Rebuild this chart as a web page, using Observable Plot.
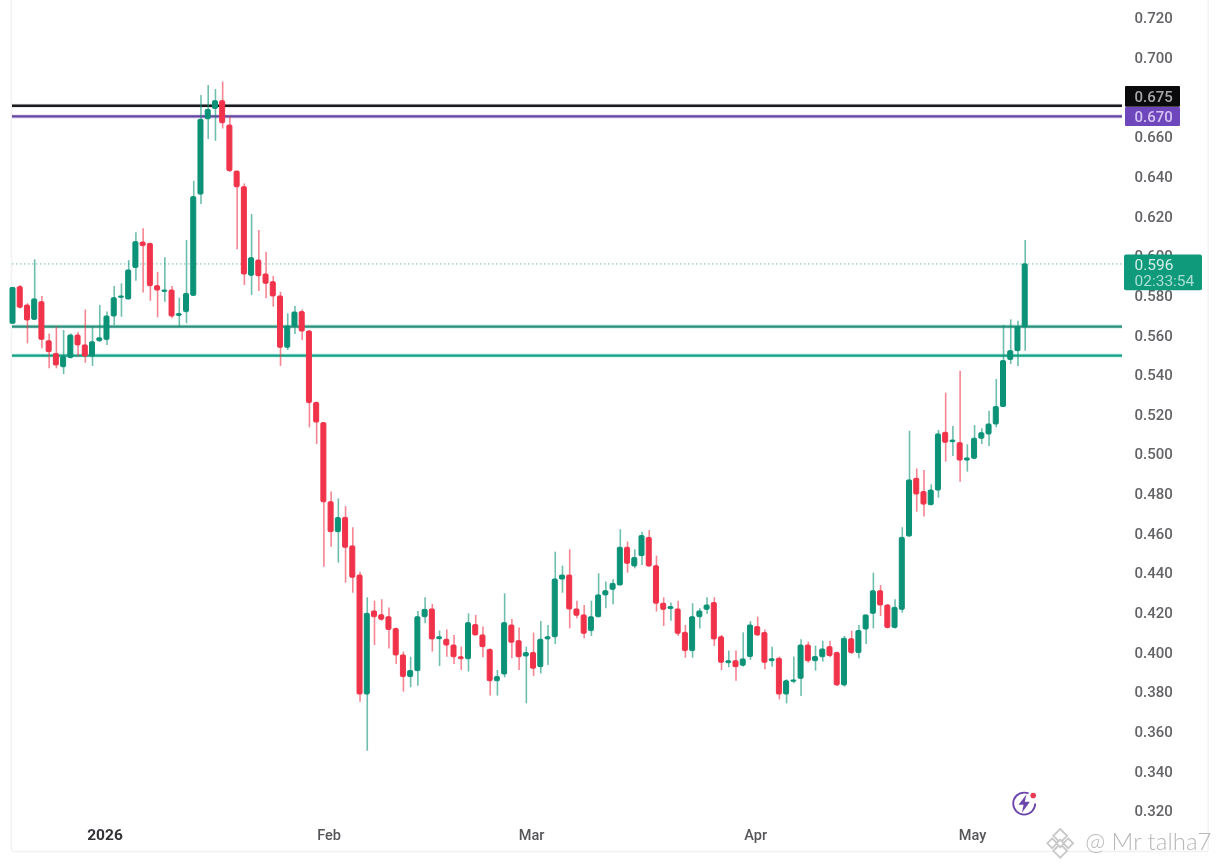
<!DOCTYPE html>
<html>
<head>
<meta charset="utf-8">
<script src="https://cdn.jsdelivr.net/npm/d3@7"></script>
<script src="https://cdn.jsdelivr.net/npm/@observablehq/plot@0.6"></script>
<style>
html,body{margin:0;padding:0;background:#fff;overflow:hidden}
svg{display:block;filter:blur(0.55px)}
</style>
</head>
<body>
<div id="chart"></div>
<script>
const opens = [
.5660,.5845,.5752,.5680,.5769,.5572,.5508,.5441,.5488,.5601,
.5551,.5495,.5572,.5579,.5697,.5791,.5783,.5942,.6070,.6063,
.5850,.5821,.5828,.5700,.5719,.5801,.6312,.6692,.6744,.6783,
.6660,.6428,.6349,.5902,.5979,.5909,.5870,.5798,.5539,.5646,
.5719,.5621,.5261,.5159,.4760,.4609,.4681,.4537,.4390,.3790,
.4209,.4190,.4180,.4120,.3987,.3878,.3908,.4180,.4219,.4069,
.4066,.4037,.3978,.3968,.4140,.4088,.4015,.3857,.3891,.4138,
.4059,.3982,.3999,.3928,.4068,.4079,.4370,.4390,.4219,.4189,
.4110,.4180,.4290,.4318,.4340,.4530,.4436,.4488,.4580,.4437,
.4248,.4221,.4219,.4101,.4009,.4180,.4217,.4251,.4079,.3948,
.3958,.3935,.3979,.4130,.4100,.3958,.3970,.3790,.3854,.3869,
.4037,.3958,.3978,.4029,.3999,.3836,.4069,.3999,.4118,.4197,
.4311,.4239,.4126,.4217,.4587,.4878,.4811,.4745,.4819,.5110,
.5063,.5058,.4970,.4979,.5080,.5102,.5152,.5240,.5478,.5522,
.5643];
const closes = [
.5841,.5741,.5677,.5783,.5579,.5517,.5450,.5492,.5601,.5551,
.5495,.5567,.5587,.5697,.5789,.5798,.5929,.6072,.6052,.5850,
.5828,.5828,.5697,.5709,.5811,.6299,.6689,.6739,.6783,.6672,
.6430,.6349,.5909,.5991,.5900,.5862,.5798,.5539,.5646,.5717,
.5621,.5260,.5162,.4760,.4609,.4680,.4530,.4379,.3790,.4197,
.4180,.4167,.4116,.3987,.3878,.3908,.4180,.4217,.4068,.4079,
.4037,.3978,.3968,.4150,.4088,.4029,.3857,.3878,.4150,.4051,
.3978,.3999,.3920,.4066,.4079,.4370,.4390,.4219,.4187,.4096,
.4180,.4290,.4311,.4348,.4530,.4449,.4478,.4589,.4436,.4248,
.4217,.4231,.4096,.4009,.4180,.4209,.4239,.4068,.3950,.3958,
.3928,.3967,.4138,.4088,.3950,.3968,.3790,.3857,.3861,.4037,
.3958,.3979,.4017,.3984,.3836,.4071,.3999,.4110,.4189,.4311,
.4239,.4126,.4227,.4580,.4870,.4799,.4748,.4819,.5102,.5060,
.5071,.4970,.4981,.5080,.5108,.5152,.5240,.5472,.5522,.5643,
.5960];
const highs = [
.5841,.5853,.5761,.5983,.5798,.5609,.5643,.5626,.5609,.5618,
.5730,.5643,.5752,.5719,.5848,.5862,.5979,.6119,.6139,.6067,
.5920,.5993,.5848,.5789,.6080,.6379,.6812,.6862,.6842,.6879,
.6702,.6428,.6366,.6211,.6131,.6021,.5899,.5819,.5710,.5747,
.5730,.5626,.5265,.5159,.4811,.4777,.4738,.4631,.4407,.4278,
.4261,.4268,.4227,.4126,.4004,.3978,.4209,.4278,.4244,.4110,
.4116,.4088,.4029,.4197,.4189,.4130,.4020,.3911,.4298,.4168,
.4126,.4029,.4100,.4158,.4138,.4508,.4437,.4520,.4261,.4239,
.4261,.4399,.4357,.4369,.4621,.4559,.4520,.4609,.4617,.4488,
.4278,.4251,.4261,.4138,.4248,.4222,.4278,.4278,.4088,.4009,
.4009,.4101,.4158,.4180,.4116,.4029,.3979,.3864,.3979,.4066,
.4054,.4034,.4059,.4059,.4004,.4083,.4110,.4138,.4189,.4402,
.4340,.4244,.4268,.4631,.5118,.4928,.4920,.4848,.5122,.5310,
.5142,.5421,.5050,.5147,.5130,.5219,.5379,.5651,.5680,.5673,
.6080];
const lows = [
.5660,.5735,.5559,.5677,.5534,.5433,.5433,.5404,.5483,.5492,
.5461,.5445,.5567,.5551,.5651,.5693,.5781,.5875,.5815,.5774,
.5690,.5769,.5685,.5643,.5660,.5798,.6262,.6590,.6581,.6643,
.6425,.6033,.5853,.5803,.5823,.5786,.5744,.5445,.5525,.5606,
.5576,.5135,.5051,.4432,.4533,.4453,.4352,.4301,.3751,.3504,
.4037,.4160,.4020,.3941,.3802,.3824,.3832,.4147,.4004,.3931,
.3978,.3941,.3911,.3903,.4088,.3975,.3782,.3782,.3874,.3970,
.3911,.3743,.3881,.3894,.3936,.4042,.4301,.4121,.4172,.4071,
.4083,.4177,.4222,.4243,.4340,.4402,.4424,.4441,.4432,.4206,
.4133,.4160,.4083,.3973,.3973,.4121,.4194,.4032,.3911,.3925,
.3857,.3928,.3962,.4083,.3915,.3928,.3763,.3743,.3844,.3780,
.3948,.3908,.3953,.3975,.3830,.3827,.3992,.3970,.4042,.4121,
.4183,.4121,.4121,.4200,.4584,.4710,.4685,.4743,.4780,.4962,
.4991,.4861,.4912,.4974,.5051,.5041,.5135,.5240,.5455,.5445,
.5522];

const firstDay = new Date(Date.UTC(2025, 11, 19));
const dates = opens.map((_, i) => d3.utcDay.offset(firstDay, i));
const candles = dates.map((date, i) => ({date, open: opens[i], close: closes[i], high: highs[i], low: lows[i]}));
const lastDate = dates[dates.length - 1];

const priceTicks = d3.range(16, 37).map(n => n / 50);
const monthLabels = ["Feb", "Mar", "Apr", "May"];
const monthDates = [Date.UTC(2026,1,1), Date.UTC(2026,2,1), Date.UTC(2026,3,1), Date.UTC(2026,4,1)].map(t => new Date(t));
const monthRows = monthLabels.map((label, i) => ({label, date: monthDates[i]}));
const yearRows = [{label: "2026", date: new Date(Date.UTC(2026,0,1))}];

const levels = [
  {value: 0.6760, color: "#1b1b1f", width: 2.6, halo: "#cfcfcf"},
  {value: 0.6706, color: "#64469f", width: 2.2, halo: "#cbbce8"},
  {value: 0.5646, color: "#2a8f7c", width: 2.4, halo: "#a9dfd1"},
  {value: 0.5500, color: "#14a085", width: 2.2, halo: "#a9e8d8"}
];
const priceTags = [
  {top: 0.6857, bottom: 0.6753, fill: "#0a0a0d"},
  {top: 0.6751, bottom: 0.6655, fill: "#6f47bd"}
];
const tagTexts = [
  {value: 0.6802, text: "0.675", color: "#a8a8a8"},
  {value: 0.6701, text: "0.670", color: "#d5c5f2"}
];
const lastTag = [{top: 0.6007, bottom: 0.5827}];
const lastTexts = [
  {value: 0.5959, text: "0.596", color: "#d3efe7"},
  {value: 0.5878, text: "02:33:54", color: "#a9dfd1"}
];

const UP = "#0b9277", DOWN = "#f0334a";
const color = d => d.close >= d.open ? UP : DOWN;
const FONT = "Roboto, 'Liberation Sans', sans-serif";

const yMin = 0.2998, yMax = 0.7291;
const bolt = {draw(c, s) {
  const k = Math.sqrt(s) / 14;
  c.moveTo(2*k,-8*k); c.lineTo(-5*k,1*k); c.lineTo(-0.5*k,1*k);
  c.lineTo(-2*k,8*k); c.lineTo(5*k,-1.5*k); c.lineTo(0.5*k,-1.5*k); c.closePath();
}};
const iconRow = [{date: lastDate, value: 0.3240}];
const markRow = [{date: lastDate, value: 0.3039}];
const diamonds = [[0,-7.5,6.2],[-8,0,4.4],[8,0,4.4],[0,7.5,6.2],[0,0,3.4]];

const chart = Plot.plot({
  width: 1220, height: 866,
  marginLeft: 12, marginRight: 98, marginTop: 0, marginBottom: 15,
  style: {background: "#fff", fontFamily: FONT, overflow: "visible"},
  x: {type: "utc", domain: [d3.utcMinute.offset(firstDay, -100), d3.utcHour.offset(lastDate, 323)], axis: null},
  y: {domain: [yMin, yMax], axis: null},
  marks: [
    Plot.ruleX([firstDay], {stroke: "#f1f1f1", strokeWidth: 1.5, dx: -1.5}),
    Plot.ruleX([lastDate], {stroke: "#f3f3f3", strokeWidth: 1.5, dx: 183}),
    Plot.ruleY([yMin], {stroke: "#f1f1f1", strokeWidth: 1.5, insetRight: -86}),
    Plot.axisY(priceTicks, {anchor: "right", tickSize: 0, tickPadding: 12, tickFormat: ".3f", label: null,
      fontSize: 15, fontWeight: 500, fill: "#636367"}),
    Plot.ruleY([closes[closes.length - 1] + 0.0002], {stroke: "#0b9277", strokeOpacity: 0.6, strokeDasharray: "1.5,2.5", strokeWidth: 1}),
    Plot.ruleY(levels, {y: "value", stroke: "halo", strokeWidth: 4, strokeOpacity: 0.6}),
    Plot.ruleY(levels, {y: "value", stroke: "color", strokeWidth: "width"}),
    Plot.ruleX(candles, {x: "date", y1: "low", y2: "high", stroke: color, strokeWidth: 1.6, strokeOpacity: 0.6}),
    Plot.rect(candles, {x1: "date", x2: "date", y1: "open", y2: "close", insetLeft: -2.5, insetRight: -2.5,
      fill: color, stroke: color, strokeWidth: 1, rx: 1}),
    Plot.rect(priceTags, {y1: "top", y2: "bottom", fill: "fill", insetLeft: 1113, insetRight: -58, rx: 1}),
    Plot.text(tagTexts, {y: "value", text: "text", fill: "color", frameAnchor: "right", dx: 12, textAnchor: "start", fontSize: 15, fontWeight: 500}),
    Plot.rect(lastTag, {y1: "top", y2: "bottom", fill: "#0f9a7c", insetLeft: 1112, insetRight: -80, rx: 2}),
    Plot.text(lastTexts, {y: "value", text: "text", fill: "color", frameAnchor: "right", dx: 12, textAnchor: "start", fontSize: 15.5, fontWeight: 400}),
    Plot.text(monthRows, {x: "date", y: () => 0.3079, text: "label", dx: -2, fill: "#55555a", fontSize: 14.5, fontWeight: 500}),
    Plot.text(yearRows, {x: "date", y: () => 0.3079, text: "label", dx: -2, fill: "#333338", fontSize: 15.5, fontWeight: 700}),
    Plot.dot(iconRow, {x: "date", y: "value", r: 11, stroke: "#6a46ad", strokeWidth: 1.8, strokeDasharray: "56,13", fill: "#fff", dx: -1}),
    Plot.dot(iconRow, {x: "date", y: "value", symbol: bolt, r: 9, fill: "#6a46ad", stroke: "none", dx: -1}),
    Plot.dot(iconRow, {x: "date", y: "value", r: 2.8, fill: "#ea3b55", stroke: "none", dx: 8, dy: -8}),
    ...diamonds.map(([dx, dy, r]) => Plot.dot(markRow, {x: "date", y: "value", symbol: "diamond2", r, stroke: "#c8c8c8", strokeWidth: 1.8, fill: "#fff", dx: 35 + dx, dy})),
    Plot.text(["@ Mr talha7"], {frameAnchor: "bottom-right", text: d => d, dx: 89, dy: -2, textAnchor: "end", fill: "#b8b8b8", fontFamily: "Lato, 'Open Sans', sans-serif", fontSize: 24, fontWeight: 300, letterSpacing: 1})
  ]
});
document.getElementById("chart").append(chart);
</script>
</body>
</html>
